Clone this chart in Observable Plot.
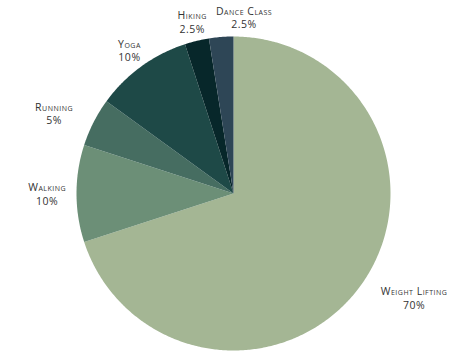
<!DOCTYPE html>
<html>
<head>
<meta charset="utf-8">
<script src="https://cdn.jsdelivr.net/npm/d3@7"></script>
<script src="https://cdn.jsdelivr.net/npm/@observablehq/plot@0.6"></script>
<style>
  html, body { margin: 0; padding: 0; background: #fff; }
  #chart svg { display: block; }
  #chart text { font-variant: small-caps; letter-spacing: 0.5px; }
</style>
</head>
<body>
<div id="chart"></div>
<script>
const categories = ["Weight Lifting", "Walking", "Running", "Yoga", "Hiking", "Dance Class"];
const values = [70, 10, 5, 10, 2.5, 2.5];
const colors = ["#a4b694", "#6c8f77", "#466d61", "#1e4947", "#07272a", "#2e4656"];

const W = 474, H = 355;
const cx = 233, cy = 193, R = 157;
const fontFamily = "'Open Sans', sans-serif";
const fontSize = 10.5;
const letterSpacing = 0.5;

const total = d3.sum(values);
const arcs = d3.pie().sort(null).value(d => d)(values);

// slice outlines, in unit-circle coordinates (angle 0 at 12 o'clock, clockwise)
const slicePts = [];
arcs.forEach((a, i) => {
  const n = Math.max(2, Math.ceil((a.endAngle - a.startAngle) / 0.01));
  slicePts.push({cat: categories[i], x: 0, y: 0});
  for (let k = 0; k <= n; k++) {
    const t = a.startAngle + (a.endAngle - a.startAngle) * k / n;
    slicePts.push({cat: categories[i], x: Math.sin(t), y: Math.cos(t)});
  }
});

// label layout
const ctx = document.createElement("canvas").getContext("2d");
function measure(s) {
  let w = 0;
  for (const ch of s) {
    if (/[a-z]/.test(ch)) {
      ctx.font = `${fontSize * 0.8}px ${fontFamily}`; w += ctx.measureText(ch.toUpperCase()).width;
    } else {
      ctx.font = `${fontSize}px ${fontFamily}`; w += ctx.measureText(ch).width;
    }
    w += letterSpacing;
  }
  return w;
}
const labels = arcs.map((a, i) => {
  const mid = (a.startAngle + a.endAngle) / 2;
  const s = Math.sin(mid), c = Math.cos(mid);
  const pct = `${values[i] / total * 100}%`;
  const w = Math.max(measure(categories[i]), measure(pct));
  const gap = 8 + 12 * Math.min(1, Math.abs(c) * 3);
  const ax = cx + (R + gap) * s, ay = cy - (R + gap) * c;
  let px = ax;
  if (Math.abs(s) > 0.7) px = ax + Math.sign(s) * w / 2;
  return {cat: categories[i], text: `${categories[i]}\n${pct}`, px, py: ay, w};
});
// resolve horizontal overlaps among top labels
for (let i = 1; i < labels.length; i++) {
  const p = labels[i - 1], q = labels[i];
  if (Math.abs(p.py - q.py) < 26 && q.px > p.px - 1 && q.px - q.w / 2 < p.px + p.w / 2 + 4) {
    q.px = p.px + p.w / 2 + 4 + q.w / 2;
  }
}
labels.forEach(l => { l.x = (l.px - cx) / R; l.y = (cy - l.py) / R; });

const chart = Plot.plot({
  width: W,
  height: H,
  margin: 0,
  x: {domain: [-1, 1], range: [cx - R, cx + R], axis: null},
  y: {domain: [-1, 1], range: [cy + R, cy - R], axis: null},
  color: {domain: categories, range: colors},
  style: {background: "#fff"},
  marks: [
    Plot.line(slicePts, {x: "x", y: "y", z: "cat", fill: "cat", stroke: "none", curve: "linear-closed"}),
    Plot.text(labels, {
      x: "x", y: "y", text: "text", textAnchor: "middle", lineAnchor: "middle",
      lineHeight: 1.3, fontSize, fontFamily, fill: "#333333"
    })
  ]
});
document.getElementById("chart").appendChild(chart);
</script>
</body>
</html>
